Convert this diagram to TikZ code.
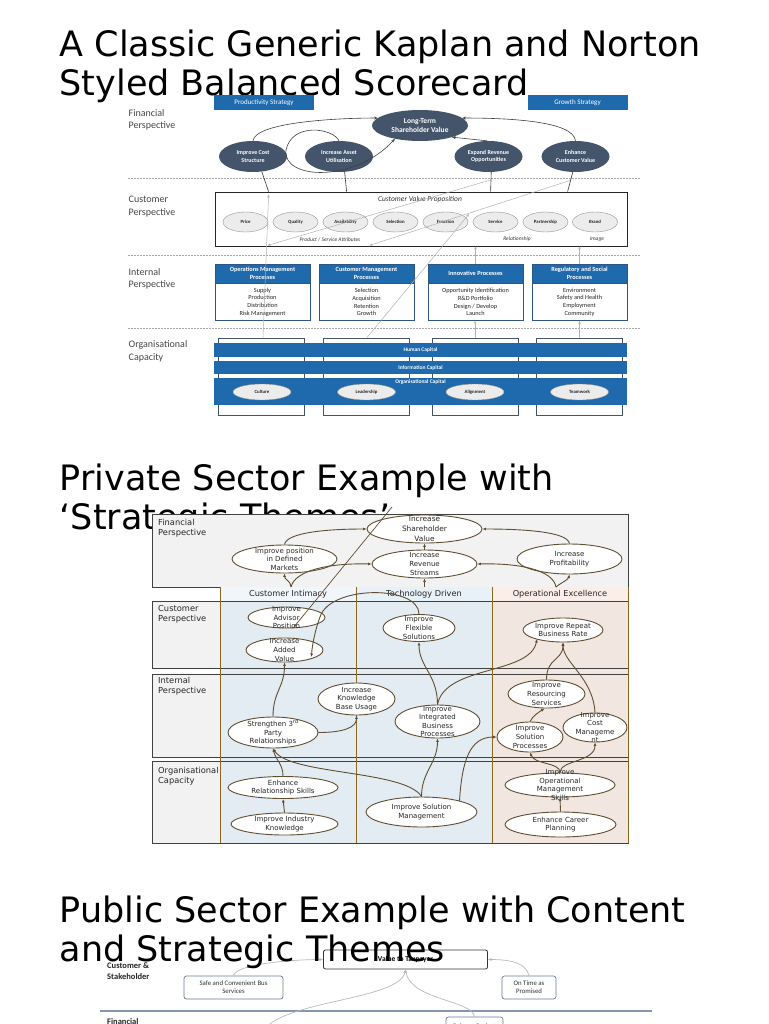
\documentclass[tikz,border=0pt]{standalone}
\usepackage{fontspec}
\usetikzlibrary{shapes.geometric,arrows.meta}
\newfontfamily\ttlfont{DejaVu Sans}
\newfontfamily\dvfont{DejaVu Sans}
\newfontfamily\cbfont{Carlito}
\definecolor{bluehdr}{RGB}{31,106,172}
\definecolor{boxedge}{RGB}{47,85,130}
\definecolor{darkell}{RGB}{68,84,106}
\definecolor{ellgray}{RGB}{236,236,236}
\definecolor{ellgrayb}{RGB}{150,150,150}
\definecolor{lbl}{RGB}{70,70,70}
\definecolor{brn}{RGB}{96,78,50}
\definecolor{gold}{RGB}{142,102,30}
\definecolor{finfill}{RGB}{242,242,242}
\definecolor{rowline}{RGB}{64,64,64}
\definecolor{colblue}{RGB}{228,236,243}
\definecolor{colpink}{RGB}{242,230,225}
\definecolor{hdrA}{RGB}{240,246,250}
\definecolor{hdrB}{RGB}{232,241,248}
\definecolor{hdrC}{RGB}{251,238,232}
\definecolor{publine}{RGB}{132,150,176}
\definecolor{pubbox}{RGB}{105,122,150}
\tikzset{
  ttl/.style={anchor=base west, inner sep=0pt, font=\ttlfont\fontsize{35}{39}\selectfont},
  lab1/.style={anchor=west, align=left, inner sep=0pt, text=lbl, font=\cbfont\fontsize{10}{12.5}\selectfont},
  stratbox/.style={fill=bluehdr, text=white, inner sep=0pt, minimum width=100pt, minimum height=15pt, font=\cbfont\fontsize{7}{8}\selectfont},
  dell/.style={ellipse, fill=darkell, draw=none, inner sep=0pt, text=white, align=center},
  fell/.style={dell, minimum width=68pt, minimum height=31pt, font=\cbfont\bfseries\fontsize{6}{7.5}\selectfont},
  gell/.style={ellipse, fill=ellgray, draw=ellgrayb, line width=0.4pt, inner sep=0pt, minimum width=45pt, minimum height=20pt, text=black!85, font=\cbfont\bfseries\fontsize{4.8}{5.5}\selectfont},
  cvit/.style={inner sep=0pt, text=black!80, font=\cbfont\itshape\fontsize{7.5}{9}\selectfont},
  cvsm/.style={inner sep=0pt, text=black!80, font=\cbfont\itshape\fontsize{5.5}{6.5}\selectfont},
  sepline/.style={draw=gray!70, dash pattern=on 2pt off 1pt, line width=0.5pt},
  a1/.style={draw=black!75, line width=0.6pt, -{Stealth[length=3.5pt,width=3pt]}},
  l1/.style={draw=black!80, line width=0.6pt},
  g1/.style={draw=gray!60, line width=0.5pt, -{Stealth[length=3pt,width=2.5pt]}},
  hdrbox/.style={fill=bluehdr, draw=boxedge, line width=0.6pt, text=white, align=center, inner sep=0pt, minimum width=95pt, minimum height=19pt, font=\cbfont\bfseries\fontsize{6.3}{7.5}\selectfont},
  bodybox/.style={fill=white, draw=boxedge, line width=0.6pt, align=center, inner sep=0pt, minimum width=95pt, minimum height=37pt, text=black!85, font=\cbfont\fontsize{6.3}{7.7}\selectfont},
  obox/.style={draw=darkell, line width=0.8pt, fill=white, minimum width=86pt, minimum height=77pt, inner sep=0pt},
  band/.style={fill=bluehdr, inner sep=0pt, minimum width=413pt, text=white, font=\cbfont\bfseries\fontsize{5.5}{6.5}\selectfont},
  bandtxt/.style={inner sep=0pt, text=white, font=\cbfont\bfseries\fontsize{5.5}{6.5}\selectfont},
  plab/.style={anchor=west, align=left, inner sep=0pt, text=black!85, font=\dvfont\fontsize{8.3}{10}\selectfont},
  phdr/.style={inner sep=0pt, text=black!85, font=\dvfont\fontsize{8.2}{9}\selectfont},
  pell/.style={ellipse, draw=brn, line width=0.9pt, fill=white, inner sep=0pt},
  ptxt/.style={align=center, inner sep=0pt, text=black!85, font=\dvfont\fontsize{7}{8.6}\selectfont},
  a2/.style={draw=brn, line width=0.9pt, -{Latex[length=3.5pt,width=3pt]}},
  a2thin/.style={draw=brn, line width=0.7pt, -{Latex[length=3.5pt,width=3pt]}},
  pbox/.style={rectangle, rounded corners=2.5pt, draw=pubbox, line width=0.7pt, fill=white, align=center, inner sep=0pt, text=black!80, font=\cbfont\fontsize{6.8}{8}\selectfont},
  vtbox/.style={rectangle, rounded corners=2pt, draw=black!80, line width=0.8pt, fill=white, inner sep=0pt, minimum width=164pt, minimum height=19pt, font=\cbfont\bfseries\fontsize{7.5}{9}\selectfont},
  p3lab/.style={anchor=west, align=left, inner sep=0pt, text=black!85, font=\cbfont\bfseries\fontsize{8.5}{11}\selectfont},
  g3/.style={draw=gray!55, line width=0.7pt, -{Stealth[length=4pt,width=3pt]}}
}
\begin{document}
\begin{tikzpicture}[x=1pt,y=-1pt]
\useasboundingbox (0,0) rectangle (768,1024);
\fill[white] (0,0) rectangle (768,1024);

% ================= Section 1 =================
\node[ttl] (t1a) at (59.5,57) {A Classic Generic Kaplan and Norton};
\node[ttl] (t1b) at (59.5,96) {Styled Balanced Scorecard};

\node[lab1] (l1f) at (128.5,120) {Financial\\Perspective};
\node[lab1] (l1c) at (128.5,206.5) {Customer\\Perspective};
\node[lab1] (l1i) at (128.5,279) {Internal\\Perspective};
\node[lab1] (l1o) at (128.5,351.5) {Organisational\\Capacity};

\draw[sepline] (128,178.5) -- (640,178.5);
\draw[sepline] (128,255) -- (640,255);
\draw[sepline] (128,328.3) -- (640,328.3);

\node[stratbox] (ps) at (264,103) {Productivity Strategy};
\node[stratbox] (gs) at (577.5,103) {Growth Strategy};

\node[dell, minimum width=96pt, minimum height=31pt, font=\cbfont\bfseries\fontsize{7.5}{9}\selectfont] (lt) at (420,125.5) {Long-Term\\Shareholder Value};
\node[fell] (ics) at (253,156.5) {Improve Cost\\Structure};
\node[fell] (iau) at (339,156.5) {Increase Asset\\Utilisation};
\node[fell] (ero) at (488.5,156.5) {Expand Revenue\\Opportunities};
\node[fell] (ecv) at (575.5,156.5) {Enhance\\Customer Value};

\draw[a1] (ics.north) .. controls +(2,-18) and +(-45,0) .. (lt.170);
\draw[a1] (iau.north) .. controls (333,128) and (292,122) .. (286,150) .. controls (282,180) and (355,183) .. (lt.-152);
\draw[a1] (ero.95) -- (lt.-20);
\draw[a1] (ecv.north) .. controls +(-2,-20) and +(45,0) .. (lt.10);

\node[draw=black!85, line width=0.8pt, fill=white, minimum width=412pt, minimum height=54pt, inner sep=0pt] (cvp) at (421,219) {};
\node[cvit] (cvpt) at (420,200) {Customer Value Proposition};
\node[gell] (pri) at (245.5,222) {Price};
\node[gell] (qua) at (295.5,222) {Quality};
\node[gell] (ava) at (345.5,222) {Availability};
\node[gell] (sel) at (395.5,222) {Selection};
\node[gell] (fun) at (445.5,222) {Function};
\node[gell] (ser) at (495.5,222) {Service};
\node[gell] (par) at (545.5,222) {Partnership};
\node[gell] (bra) at (595,222) {Brand};
\node[cvsm] (psa) at (330,239.5) {Product / Service Attributes};
\node[cvsm] (rls) at (517,239.5) {Relationship};
\node[cvsm] (img) at (597,239.5) {Image};

\draw[l1] (ics.-60) -- ([xshift=54pt]cvp.north west);
\draw[l1] (iau.-70) -- ([xshift=132pt]cvp.north west);
\draw[l1] (ero.-80) -- ([xshift=276pt]cvp.north west);
\draw[l1] (ecv.-100) -- ([xshift=353pt]cvp.north west);

\node[hdrbox] (om) at (262.5,273.5) {Operations Management\\Processes};
\node[bodybox, anchor=north] (omb) at (om.south) {Supply\\Production\\Distribution\\Risk Management};
\node[hdrbox] (cm) at (366.5,273.5) {Customer Management\\Processes};
\node[bodybox, anchor=north] (cmb) at (cm.south) {Selection\\Acquisition\\Retention\\Growth};
\node[hdrbox] (inn) at (475.5,273.5) {Innovative Processes};
\node[bodybox, anchor=north] (innb) at (inn.south) {Opportunity Identification\\R\&D Portfolio\\Design / Develop\\Launch};
\node[hdrbox] (reg) at (579.5,273.5) {Regulatory and Social\\Processes};
\node[bodybox, anchor=north] (regb) at (reg.south) {Environment\\Safety and Health\\Employment\\Community};

\node[obox] (ob1) at (261,376.5) {};
\node[obox] (ob2) at (366,376.5) {};
\node[obox] (ob3) at (475,376.5) {};
\node[obox] (ob4) at (579.5,376.5) {};
\node[band, minimum height=14pt] (hcb) at (420.5,350) {Human Capital};
\node[band, minimum height=13pt] (icb) at (420.5,367.5) {Information Capital};
\node[band, minimum height=27pt] (ocb) at (420.5,391.5) {};
\node[bandtxt] (ocbt) at (420.5,382) {Organisational Capital};
\node[gell, minimum width=58pt, minimum height=16pt] (cul) at (262,392) {Culture};
\node[gell, minimum width=58pt, minimum height=16pt] (lea) at (366.5,392) {Leadership};
\node[gell, minimum width=58pt, minimum height=16pt] (ali) at (475,392) {Alignment};
\node[gell, minimum width=58pt, minimum height=16pt] (tea) at (579.5,392) {Teamwork};

\coordinate (ge1) at (490.5,180);
\coordinate (ge2) at (570,180.5);
\coordinate (gd) at (469,214);
\draw[g1] ([xshift=2pt]ob1.north) -- ([xshift=54pt,yshift=-3pt]cvp.north west);
\draw[g1] ([xshift=1pt]ob2.north) -- (gd);
\draw[g1] (ge1) -- ([xshift=53pt,yshift=1pt]cvp.south west);
\draw[g1] (ge2) -- ([xshift=155pt,yshift=1pt]cvp.south west);
\draw[g1] (inn.north) -- (inn.north |- cvp.south);
\draw[g1] (reg.north) -- (reg.north |- cvp.south);
\draw[g1] (ob3.north) -- (ob3.north |- innb.south);
\draw[g1] (ob4.north) -- (ob4.north |- regb.south);

% ================= Section 2 =================
\node[ttl] (t2a) at (59.5,490) {Private Sector Example with};
\node[ttl] (t2b) at (59.5,529) {‘Strategic Themes’};

\draw[rowline, line width=0.8pt, fill=finfill] (152,514) rectangle (628.5,587);
\draw[rowline, line width=0.8pt, fill=finfill] (152,601) rectangle (220,668);
\draw[rowline, line width=0.8pt, fill=finfill] (152,674) rectangle (220,757.5);
\draw[rowline, line width=0.8pt, fill=finfill] (152,761.5) rectangle (220,843);
\node[plab] (pl1) at (158,528.3) {Financial\\Perspective};
\node[plab] (pl2) at (158,614.5) {Customer\\Perspective};
\node[plab] (pl3) at (158,686.7) {Internal\\Perspective};
\node[plab] (pl4) at (158,776.4) {Organisational\\Capacity};

\fill[colblue] (220,587) rectangle (492,843);
\fill[colpink] (492,587) rectangle (628.5,843);
\fill[hdrA] (220,587) rectangle (356,601);
\fill[hdrB] (356,587) rectangle (492,601);
\fill[hdrC] (492,587) rectangle (628.5,601);
\foreach \yy in {601,668,674,757.5,761.5,843} \draw[rowline, line width=0.8pt] (152,\yy) -- (628.5,\yy);
\foreach \xx in {220,356,492,628.5} \draw[gold, line width=1pt] (\xx,587) -- (\xx,843);
\node[phdr] (h1) at (288,594.5) {Customer Intimacy};
\node[phdr] (h2) at (424,594.5) {Technology Driven};
\node[phdr] (h3) at (560,594.5) {Operational Excellence};

\node[pell, minimum width=115pt, minimum height=28pt, label={[ptxt, font=\dvfont\fontsize{7.4}{10}\selectfont]center:Increase\\Shareholder\\Value}] (sv) at (424.5,529) {};
\node[pell, minimum width=105pt, minimum height=28pt, label={[ptxt]center:Increase\\Revenue\\Streams}] (rev) at (424.5,564) {};
\node[pell, minimum width=105pt, minimum height=28pt, label={[ptxt]center:Improve position\\in Defined\\Markets}] (ip) at (284.5,559) {};
\node[pell, minimum width=105pt, minimum height=30pt, label={[ptxt]center:Increase\\Profitability}] (pr) at (569.5,559) {};

\node[pell, minimum width=77pt, minimum height=21pt, label={[ptxt]center:Improve\\Advisor\\Position}] (iap) at (286.5,617.5) {};
\node[pell, minimum width=77pt, minimum height=24pt, label={[ptxt]center:Increase\\Added\\Value}] (iav) at (284.5,650) {};
\node[pell, minimum width=72pt, minimum height=27pt, label={[ptxt]center:Improve\\Flexible\\Solutions}] (ifs) at (419,628) {};
\node[pell, minimum width=80pt, minimum height=24pt, label={[ptxt]center:Improve Repeat\\Business Rate}] (irb) at (563,630) {};

\node[pell, minimum width=77pt, minimum height=32pt, label={[ptxt]center:Increase\\Knowledge\\Base Usage}] (kb) at (356.5,699) {};
\node[pell, minimum width=90pt, minimum height=31pt, label={[ptxt]center:Strengthen 3\textsuperscript{rd}\\Party\\Relationships}] (sr) at (273,732.5) {};
\node[pell, minimum width=85pt, minimum height=33pt, label={[ptxt]center:Improve\\Integrated\\Business\\Processes}] (iib) at (437.5,721.5) {};
\node[pell, minimum width=77pt, minimum height=28pt, label={[ptxt]center:Improve\\Resourcing\\Services}] (irs) at (546.5,694) {};
\node[pell, minimum width=66pt, minimum height=30pt, label={[ptxt]center:Improve\\Solution\\Processes}] (isp) at (530,737) {};
\node[pell, minimum width=64pt, minimum height=29pt, label={[ptxt]center:Improve\\Cost\\Manageme\\nt}] (icm) at (595,727.5) {};

\node[pell, minimum width=110pt, minimum height=22pt, label={[ptxt]center:Enhance\\Relationship Skills}] (ers) at (283,787.5) {};
\node[pell, minimum width=107pt, minimum height=22pt, label={[ptxt]center:Improve Industry\\Knowledge}] (iik) at (284.5,824) {};
\node[pell, minimum width=111pt, minimum height=30pt, label={[ptxt]center:Improve Solution\\Management}] (ism) at (421.5,812) {};
\node[pell, minimum width=110pt, minimum height=24pt, label={[ptxt]center:Improve\\Operational\\Management\\Skills}] (iom) at (560,785) {};
\node[pell, minimum width=111pt, minimum height=25pt, label={[ptxt]center:Enhance Career\\Planning}] (ecp) at (560.5,824.5) {};

\coordinate (fk1) at (291,587);
\coordinate (fk2) at (556,587);
\draw[a2] (fk1) .. controls +(0,-6) and +(0,6) .. (ip.south);
\draw[a2] (fk1) .. controls (295,570) and (330,563) .. (rev.west);
\draw[a2] (rev.south |- fk1) -- (rev.south);
\draw[a2] (fk2) .. controls (553,570) and (520,563) .. (rev.east);
\draw[a2] (fk2) .. controls (562,582) and (568,580) .. (pr.south);
\draw[a2] (ip.north) .. controls +(2,-12) and +(-40,0) .. (sv.west);
\draw[a2] (pr.north) .. controls +(-2,-12) and +(40,0) .. (sv.east);
\draw[a2] (rev.north) -- (sv.south);

\draw[a2] (ifs.north) .. controls (419,585) and (330,585) .. (320,617) .. controls (316,627) and (312,645) .. ([xshift=27pt,yshift=-7pt]iav.center);
\draw[a2] (sr.north) .. controls +(0,-25) and +(0,25) .. (iav.south);
\draw[a2] (sr.east) .. controls +(25,0) and +(0,12) .. (kb.south);
\draw[a2] (iib.north) .. controls +(0,-30) and +(0,25) .. (ifs.south);
\draw[a2] (iib.north) .. controls (445,665) and (530,675) .. ([xshift=-26pt,yshift=-9pt]irb.center);
\draw[a2] (irs.north) .. controls +(0,-22) and +(0,18) .. (irb.south);
\draw[a2] (icm.north) .. controls +(-2,-35) and +(0,20) .. (irb.south);
\draw[a2] (isp.north) .. controls +(3,-6) and +(-6,4) .. ([xshift=-2pt]irs.south);
\draw[a2] (ism.north) .. controls +(0,-25) and +(0,25) .. (iib.south);
\draw[a2] ([xshift=38pt,yshift=11pt]ism.center) .. controls (462,760) and (470,737) .. (isp.west);
\draw[a2] (ism.north) .. controls (405,770) and (290,775) .. (sr.south);
\draw[a2] (ers.north) .. controls +(0,-12) and +(3,12) .. (sr.south);
\draw[a2] (iik.north) -- (ers.south);
\draw[a2] (ecp.north) -- (iom.south);
\draw[a2] (iom.north) .. controls (560,762) and (535,765) .. (isp.south);
\draw[a2] (iom.north) .. controls (560,760) and (595,762) .. (icm.south);

\coordinate (dg) at (392,507);
\draw[a2thin] (dg) -- ([xshift=7pt,yshift=-10pt]iap.center);

% ================= Section 3 =================
\node[pbox, minimum width=99pt, minimum height=23pt] (sc) at (233.5,987.5) {Safe and Convenient Bus\\Services};
\node[pbox, minimum width=54pt, minimum height=23pt] (ot) at (529,987.5) {On Time as\\Promised};
\node[vtbox] (vt) at (405.5,959.5) {Value to Taxpayer};
\node[pbox, minimum width=57pt, minimum height=19pt] (bb) at (474.5,1026.5) {Balance Budget};
\draw[publine, line width=1.1pt] (100,1011) -- (652,1011);
\node[p3lab] (cs3) at (107,971.5) {Customer \&\\Stakeholder};
\node[p3lab] (fn3) at (107,1022) {Financial};

\coordinate (pst) at (264,1030);
\draw[g3] (sc.north) .. controls +(3,-12) and +(-30,0) .. (vt.west);
\draw[g3] (ot.north) .. controls +(-3,-12) and +(25,0) .. (vt.east);
\draw[g3] (pst) .. controls (285,1000) and (400,1000) .. (vt.south);
\draw[g3] (bb.north) .. controls (472,1000) and (410,1000) .. (vt.south);

\node[ttl] (t3a) at (59.5,922) {Public Sector Example with Content};
\node[ttl] (t3b) at (59.5,961) {and Strategic Themes};
\end{tikzpicture}
\end{document}
